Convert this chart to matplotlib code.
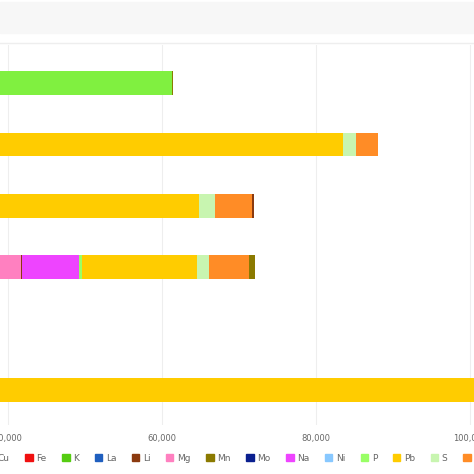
import numpy as np
import matplotlib.pyplot as plt
from matplotlib.patches import Rectangle

elements = ["Cu", "Fe", "K", "La", "Li", "Mg", "Mn", "Mo", "Na", "Ni", "P", "Pb", "S", "Sb", "Sc"]
colors = ["#c87533", "#f01010", "#55cc11", "#1f5fbf", "#8b3a0f", "#ff80c0", "#8b7a00", "#0a1f8f",
          "#ee44ff", "#88c8ff", "#99ff66", "#ffcc00", "#c8f5b0", "#ff8c26", "#80f040"]

# rows from bottom to top; values per element
rows = ["r1", "r2", "r3", "r4", "r5", "r6"]
values = {
    "r1": {"Pb": 101000},
    "r2": {},
    "r3": {"Mg": 41700, "Li": 150, "Na": 7350, "P": 500, "Pb": 14800, "S": 1600, "Sb": 5200, "Mn": 800},
    "r4": {"Pb": 64800, "S": 2100, "Sb": 4800, "Li": 300},
    "r5": {"Pb": 83500, "S": 1700, "Sb": 2850},
    "r6": {"Sc": 61300, "Mn": 200},
}
# stacking order per row (left to right)
orders = {
    "r1": ["Pb"],
    "r2": [],
    "r3": ["Mg", "Li", "Na", "P", "Pb", "S", "Sb", "Mn"],
    "r4": ["Pb", "S", "Sb", "Li"],
    "r5": ["Pb", "S", "Sb"],
    "r6": ["Sc", "Mn"],
}

fig = plt.figure(figsize=(4.74, 4.74), dpi=100)
ax = fig.add_axes([0, 0.103, 1, 0.802])
cmap = dict(zip(elements, colors))
for i, r in enumerate(rows):
    left = 0
    for el in orders[r]:
        v = values[r][el]
        ax.barh(i, v, left=left, height=0.39, color=cmap[el], linewidth=0)
        left += v

ax.set_xlim(39000, 100500)
ax.set_ylim(-0.57, 5.62)
ax.set_xticks([40000, 60000, 80000, 100000])
ax.set_xticklabels(["40,000", "60,000", "80,000", "100,000"])
ax.tick_params(axis="x", length=0, labelsize=6, colors="#666666", pad=6)
ax.set_yticks([])
ax.grid(axis="x", color="#eeeeee", linewidth=0.8)
ax.set_axisbelow(True)
for s in ax.spines.values():
    s.set_visible(False)

fig.patches.append(Rectangle((0.0, 0.93), 1, 0.065, transform=fig.transFigure,
                             color="#f7f7f7", zorder=0))
fig.lines.append(plt.Line2D([0, 1], [0.909, 0.909], transform=fig.transFigure,
                            color="#eeeeee", linewidth=1))

handles = [Rectangle((0, 0), 1, 1, color=c) for c in colors]
fig.legend(handles, elements, ncol=15, loc="center left", bbox_to_anchor=(-0.045, 0.033),
           frameon=False, fontsize=6.5, handlelength=0.8, handleheight=0.8,
           columnspacing=1.75, handletextpad=0.4, labelcolor="#666666")

fig.savefig("out.png", dpi=100)
